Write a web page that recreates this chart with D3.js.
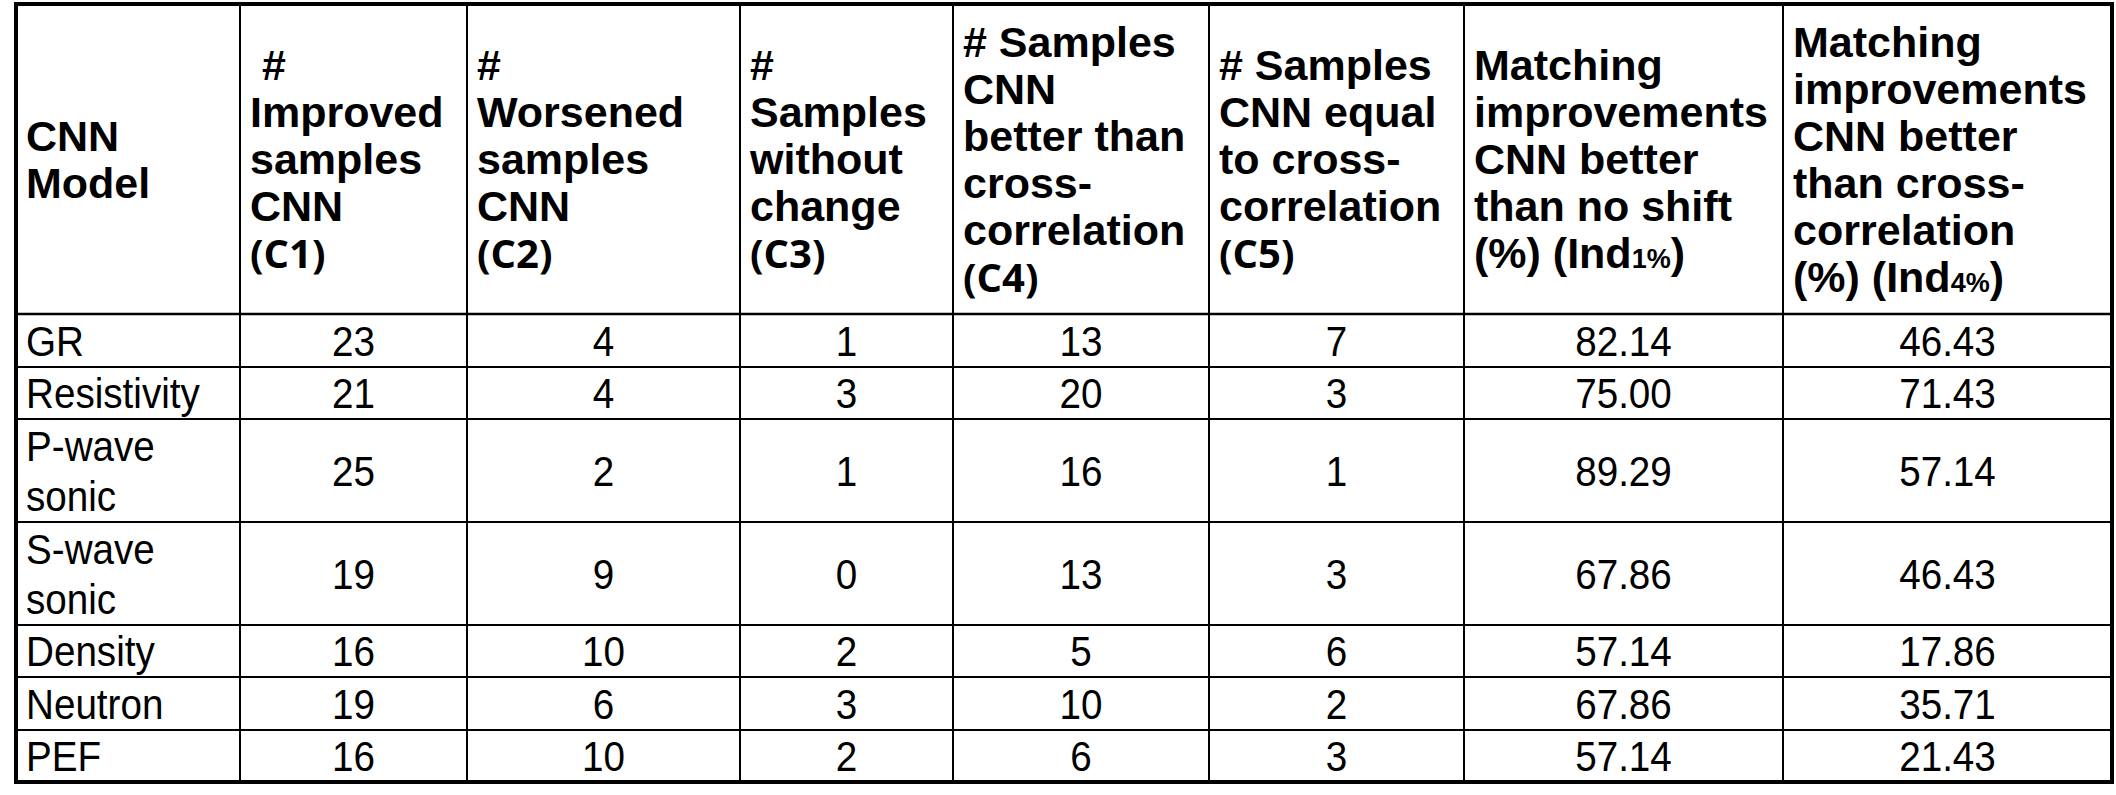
<!DOCTYPE html>
<html>
<head>
<meta charset="utf-8">
<script src="https://cdn.jsdelivr.net/npm/d3@7"></script>
<style>
  body { margin: 0; background: #fff; }
  text { font-family: "Liberation Sans", Arial, sans-serif; fill: #000; }
</style>
</head>
<body>
<svg id="chart" width="2116" height="795"></svg>
<script>
// table data
const models = [["GR"], ["Resistivity"], ["P-wave", "sonic"], ["S-wave", "sonic"], ["Density"], ["Neutron"], ["PEF"]];
const improved = [23, 21, 25, 19, 16, 19, 16];
const worsened = [4, 4, 2, 9, 10, 6, 10];
const noChange = [1, 3, 1, 0, 2, 3, 2];
const betterCC = [13, 20, 16, 13, 5, 10, 6];
const equalCC = [7, 3, 1, 3, 6, 2, 3];
const ind1 = ["82.14", "75.00", "89.29", "67.86", "57.14", "67.86", "57.14"];
const ind4 = ["46.43", "71.43", "57.14", "46.43", "17.86", "35.71", "21.43"];

const headers = [
  ["CNN", "Model"],
  [" #", "Improved", "samples", "CNN", "(C1)"],
  ["#", "Worsened", "samples", "CNN", "(C2)"],
  ["#", "Samples", "without", "change", "(C3)"],
  ["# Samples", "CNN", "better than", "cross-", "correlation", "(C4)"],
  ["# Samples", "CNN equal", "to cross-", "correlation", "(C5)"],
  ["Matching", "improvements", "CNN better", "than no shift", "(%) (Ind|1%|)"],
  ["Matching", "improvements", "CNN better", "than cross-", "correlation", "(%) (Ind|4%|)"]
];

// layout
const colEdges = [16, 240, 467, 740, 953, 1209, 1464, 1783, 2112];
const rowEdges = [4, 314, 367, 419, 522, 625, 677, 730, 782];

const svg = d3.select("#chart");
const columns = [models, improved, worsened, noChange, betterCC, equalCC, ind1, ind4];

// grid lines
const g = svg.append("g");
colEdges.slice(1, -1).forEach(x => {
  g.append("line").attr("x1", x).attr("x2", x).attr("y1", rowEdges[0]).attr("y2", rowEdges[8])
    .attr("stroke", "#000").attr("stroke-width", 2);
});
rowEdges.slice(1, -1).forEach((y, i) => {
  g.append("line").attr("x1", colEdges[0]).attr("x2", colEdges[8]).attr("y1", y).attr("y2", y)
    .attr("stroke", "#000").attr("stroke-width", i === 0 ? 2.5 : 2);
});
g.append("rect")
  .attr("x", colEdges[0]).attr("y", rowEdges[0])
  .attr("width", colEdges[8] - colEdges[0]).attr("height", rowEdges[8] - rowEdges[0])
  .attr("fill", "none").attr("stroke", "#000").attr("stroke-width", 4);

// header
const headLine = 47;
const headMid = (rowEdges[0] + rowEdges[1]) / 2;
headers.forEach((lines, c) => {
  const top = headMid - (lines.length - 1) * headLine / 2 + 15;
  lines.forEach((line, i) => {
    const t = svg.append("text")
      .attr("x", colEdges[c] + 10)
      .attr("y", top + i * headLine)
      .attr("font-size", 43)
      .attr("font-weight", "bold")
      .attr("xml:space", "preserve");
    const parts = line.split("|");
    parts.forEach((p, k) => {
      const ts = t.append("tspan").text(p);
      if (k === 1) ts.attr("font-size", 27);
      if (/^\(C\d\)$/.test(p)) ts.attr("font-family", "'Open Sans', sans-serif").attr("font-size", 40);
    });
  });
});

// body
const bodyLine = 50;
models.forEach((m, r) => {
  const mid = (rowEdges[r + 1] + rowEdges[r + 2]) / 2;
  columns.forEach((col, c) => {
    const val = col[r];
    const lines = Array.isArray(val) ? val : [String(val)];
    const top = mid - (lines.length - 1) * bodyLine / 2 + 15;
    lines.forEach((line, i) => {
      const x = c === 0 ? colEdges[0] + 10 : (colEdges[c] + colEdges[c + 1]) / 2;
      svg.append("text")
        .attr("transform", `translate(${x},${top + i * bodyLine}) scale(0.92,1)`)
        .attr("text-anchor", c === 0 ? "start" : "middle")
        .attr("font-size", 42)
        .text(line);
    });
  });
});
</script>
</body>
</html>
